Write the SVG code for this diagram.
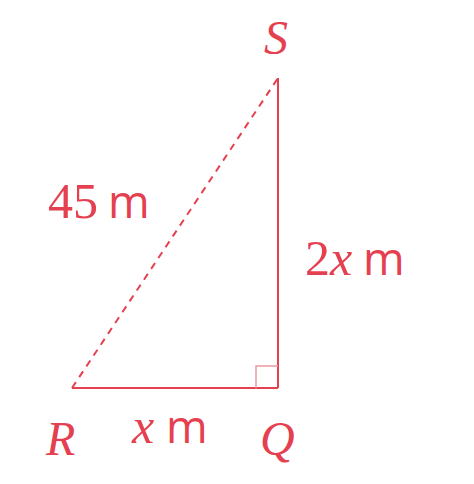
<svg xmlns="http://www.w3.org/2000/svg" width="474" height="484" viewBox="0 0 474 484">
<style>
.ln{stroke:#e5404f;stroke-width:2;fill:none}
.ra{stroke:#e89aa2;stroke-width:1.5;fill:none}
.t{fill:#e5404f;font-family:"Liberation Serif","DejaVu Serif",serif;font-size:48px}
.d{font-size:50px}
.i{font-style:italic}
.m{fill:#e5404f;font-family:"Open Sans","Liberation Sans",sans-serif;font-size:45px}
</style>
<rect width="474" height="484" fill="#fff"/>
<g id="connectors">
<line class="ln" x1="72" y1="388" x2="278" y2="388"/>
<line class="ln" x1="278" y1="388" x2="278" y2="78"/>
<line class="ln" x1="72" y1="388" x2="278" y2="78" stroke-dasharray="7,6"/>
<path class="ra" d="M256 388V366H278"/>
</g>
<g id="S"><text class="t i" x="264" y="54">S</text></g>
<g id="R"><text class="t i" x="46" y="455">R</text></g>
<g id="Q"><text class="t i" x="260" y="455">Q</text></g>
<g id="lbl45"><text class="t d" x="48" y="218">45</text><text class="m" x="108" y="218">m</text></g>
<g id="lbl2x"><text class="t d" x="305" y="275">2<tspan class="i">x</tspan></text><text class="m" x="363" y="275">m</text></g>
<g id="lblx"><text class="t d i" x="132" y="443">x</text><text class="m" x="166" y="443">m</text></g>
</svg>
